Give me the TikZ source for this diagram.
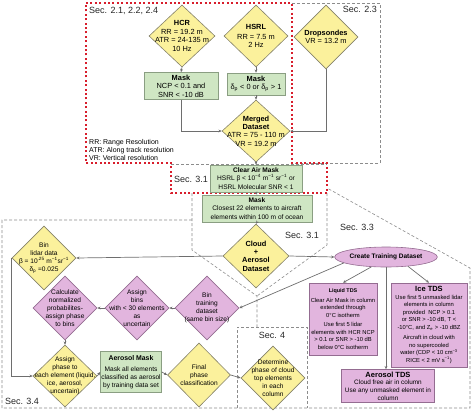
\documentclass[tikz,border=0pt]{standalone}
\usepackage{fontspec}
\setmainfont{Liberation Sans}
\usetikzlibrary{shapes.geometric,arrows.meta}
\definecolor{ylwF}{HTML}{FBF19C}
\definecolor{ylwD}{HTML}{85826A}
\definecolor{grnF}{HTML}{CFE6C3}
\definecolor{grnD}{HTML}{8A9E82}
\definecolor{pnkF}{HTML}{E2B5DE}
\definecolor{pnkD}{HTML}{946C91}
\definecolor{lnC}{HTML}{6E6E6E}
\definecolor{redC}{HTML}{D81E2C}
\definecolor{dshC}{HTML}{8C8C8C}
\newcommand{\fntD}{\fontsize{7.4}{8.4}\selectfont}
\newcommand{\fntP}{\fontsize{6.6}{7.9}\selectfont}
\newcommand{\fntS}{\fontsize{5.8}{7.5}\selectfont}
\newcommand{\fntM}{\fontsize{6.6}{8.2}\selectfont}
\newcommand{\fntL}{\fontsize{7}{8}\selectfont}
\newcommand{\fntSec}{\fontsize{9}{10}\selectfont}
\begin{document}
\begin{tikzpicture}[x=1pt,y=-1pt,
 dia/.style={diamond,aspect=1,draw=ylwD,fill=ylwF,line width=0.6pt,inner sep=0pt},
 pdia/.style={dia,draw=pnkD,fill=pnkF},
 gbox/.style={rectangle,draw=grnD,fill=grnF,line width=0.6pt,inner sep=0pt,align=center},
 pbox/.style={rectangle,draw=pnkD,fill=pnkF,line width=0.6pt,inner sep=0pt,align=center},
 txt/.style={align=center,inner sep=0pt},
 conn/.style={draw=lnC,line width=0.7pt,-{Stealth[length=3.2pt,width=2.8pt]}},
 reddot/.style={draw=redC,line width=2.1pt,dash pattern=on 2pt off 2.4pt},
 gdash/.style={draw=dshC,line width=0.6pt,dash pattern=on 3pt off 2pt},
 seclab/.style={inner sep=0pt,font=\fntSec,text=black!85}
]
\useasboundingbox (0,0) rectangle (474,413);

% section outlines
\draw[gdash] (292,3) -- (380,3) -- (380,163) -- (292,163);
\draw[gdash] (171,164) -- (327,164);
\draw[gdash] (192,193) -- (192,250) -- (257,296) -- (257,327);
\draw[gdash] (327,193) -- (327,245) -- (257,296);
\draw[gdash] (192,220) -- (2,220) -- (2,408) -- (470,408) -- (470,268) -- (327,188);
\draw[gdash] (237,408) -- (237,327) -- (307,327) -- (307,408);
\draw[reddot] (86,3) -- (292,3) -- (292,163) -- (327,163) -- (327,193) -- (171,193) -- (171,163) -- (86,163) -- cycle;

% section labels
\node[seclab,anchor=west] (s224) at (89,11) {Sec. 2.1, 2.2, 2.4};
\node[seclab,anchor=east] (s23) at (377,9) {Sec. 2.3};
\node[seclab] (s31a) at (191,179) {Sec. 3.1};
\node[seclab] (s31b) at (302,235) {Sec. 3.1};
\node[seclab] (s33) at (357,227) {Sec. 3.3};
\node[seclab] (s4) at (272,335) {Sec. 4};
\node[seclab] (s34) at (22,401) {Sec. 3.4};
\node[txt,anchor=west,align=left,font=\fntL] (leg) at (89,150) {RR: Range Resolution\\ATR: Along track resolution\\VR: Vertical resolution};

% top: instruments
\node[dia,minimum width=66pt,minimum height=62pt] (hcr) at (182,36) {};
\node[txt,font=\fntD] (hcrT) at (hcr) {\textbf{HCR}\\RR = 19.2 m\\ATR = 24-135 m\\10 Hz};
\node[dia,minimum width=64pt,minimum height=62pt] (hsrl) at (256,36) {};
\node[txt,font=\fntD] (hsrlT) at (hsrl) {\textbf{HSRL}\\[1pt]RR = 7.5 m\\2 Hz};
\node[dia,minimum width=64pt,minimum height=64pt] (drop) at (326,37) {};
\node[txt,font=\fntD] (dropT) at (drop) {\textbf{Dropsondes}\\VR = 13.2 m};
\node[gbox,font=\fntD,minimum width=74pt,minimum height=27pt] (hcrmask) at (181,86) {\textbf{Mask}\\NCP < 0.1 and\\SNR < -10 dB};
\node[gbox,font=\fntD,minimum width=58pt,minimum height=22pt] (hsrlmask) at (256,84) {\textbf{Mask}\\δ\textsubscript{p} < 0 or δ\textsubscript{p} > 1};
\node[dia,minimum width=68pt,minimum height=62pt] (merged) at (256,131) {};
\node[txt,font=\fntD] (mergedT) at (merged) {\textbf{Merged}\\\textbf{Dataset}\\ATR = 75 - 110 m\\VR = 19.2 m};

% Sec 3.1
\node[gbox,font=\fntM,minimum width=92pt,minimum height=27pt] (clearair) at (256,178.5) {\textbf{Clear Air Mask}\\HSRL β < 10\textsuperscript{−4} m\textsuperscript{−1} sr\textsuperscript{−1} or\\HSRL Molecular SNR < 1};
\node[gbox,font=\fntM,minimum width=110pt,minimum height=27pt] (mask22) at (257,208.5) {\textbf{Mask}\\Closest 22 elements to aircraft\\elements within 100 m of ocean};
\node[dia,minimum width=66pt,minimum height=64pt] (cloud) at (256,256) {};
\node[txt,font=\fntD] (cloudT) at (cloud) {\textbf{Cloud}\\\textbf{+}\\\textbf{Aerosol}\\\textbf{Dataset}};

% Sec 3.4
\node[dia,minimum width=64pt,minimum height=64pt] (binlidar) at (44,258) {};
\node[txt,font=\fntP] (binlidarT) at (binlidar) {Bin\\lidar data\\β = 10\textsuperscript{.25} m\textsuperscript{−1}sr\textsuperscript{−1}\\δ\textsubscript{p} =0.025};
\node[pdia,minimum width=64pt,minimum height=64pt] (calc) at (65,308) {};
\node[txt,font=\fntP] (calcT) at (calc) {Calculate\\normalized\\probabilites-\\assign phase\\to bins};
\node[pdia,minimum width=64pt,minimum height=64pt] (assignbins) at (137,308) {};
\node[txt,font=\fntP] (assignbinsT) at (assignbins) {Assign\\bins\\with < 30 elements\\as\\uncertain};
\node[pdia,minimum width=64pt,minimum height=64pt] (bintrain) at (207,308) {};
\node[txt,font=\fntP] (bintrainT) at (bintrain) {Bin\\training\\dataset\\(same bin size)};
\node[dia,minimum width=64pt,minimum height=62pt] (assignph) at (65,376) {};
\node[txt,font=\fntP] (assignphT) at (assignph) {Assign\\phase to\\each element (liquid,\\ice, aerosol,\\uncertain)};
\node[gbox,font=\fntP,minimum width=61pt,minimum height=41pt] (aermask) at (131,372) {{\fontsize{6.9}{8}\selectfont\textbf{Aerosol Mask}}\\[3pt]Mask all elements\\classified as aerosol\\by training data set};
\node[dia,minimum width=63pt,minimum height=64pt] (final) at (199,375) {};
\node[txt,font=\fntP] (finalT) at (final) {Final\\phase\\classification};
\node[dia,minimum width=64pt,minimum height=64pt] (determine) at (273,378) {};
\node[txt,font=\fntP] (determineT) at (determine) {Determine\\phase of cloud\\top elements\\in each\\column};

% Sec 3.3
\node[ellipse,draw=pnkD,fill=pnkF,line width=0.6pt,inner sep=0pt,minimum width=87pt,minimum height=20pt,font=\fontsize{6.5}{7}\selectfont] (ctd) at (386,257) {\textbf{Create Training Dataset}};
\node[pbox,font=\fntS,minimum width=68pt,minimum height=72pt] (liquid) at (343,319) {{\fontsize{5.4}{7}\selectfont\textbf{Liquid TDS}}\\[2pt]Clear Air Mask in column\\extended through\\0°C isotherm\\[2pt]Use first 5 lidar\\elements with HCR NCP\\> 0.1 or SNR > -10 dB\\below 0°C isotherm};
\node[pbox,font=\fntS,minimum width=76pt,minimum height=84pt] (ice) at (429,325) {{\fontsize{7.5}{8}\selectfont\textbf{Ice TDS}}\\Use first 5 unmasked lidar\\elements in column\\provided\ \ NCP > 0.1\\or SNR > -10 dB, T <\\-10°C, and Z\textsubscript{e} > -10 dBZ\\[3pt]Aircraft in cloud with\\no supercooled\\water (CDP < 10 cm\textsuperscript{−3}\\RICE < 2 mV s\textsuperscript{−1})};
\node[pbox,font=\fontsize{6.4}{7.6}\selectfont,minimum width=93pt,minimum height=33pt] (aerosol) at (388,386) {{\fontsize{7.5}{8}\selectfont\textbf{Aerosol TDS}}\\Cloud free air in column\\Use any unmasked element in\\column};

% connectors
\draw[conn] (hcr.south) -- (hcrmask.north);
\draw[conn] (hsrl.south) -- (hsrlmask.north);
\draw[conn] (hcrmask.south) |- (merged.west);
\draw[conn] (hsrlmask.south) -- (merged.north);
\draw[conn] (drop.south) |- (merged.east);
\draw[conn] (merged.south) -- (clearair.north);
\draw[conn] (clearair.south) -- (mask22.north);
\draw[conn] (mask22.south) -- (cloud.north);
\draw[conn] (cloud.west) -- (binlidar.east);
\draw[conn] (cloud.east) -- (ctd.west);
\draw[conn] (ctd.188) -- (bintrain.east);
\draw[conn] (bintrain.west) -- (assignbins.east);
\draw[conn] (assignbins.west) -- (calc.east);
\draw[conn] (calc.south) -- (assignph.north);
\draw[conn] (binlidar.west) |- (assignph.west);
\draw[conn] (assignph.east) -- (aermask.west);
\draw[conn] (aermask.east) -- (final.west);
\draw[conn] (final.east) -- (determine.west);
\draw[conn] (ctd.214) -- (liquid.north);
\draw[conn] (ctd.337) -- (ice.north);
\draw[conn] (ctd.south) -- (ctd.south |- aerosol.north);
\end{tikzpicture}
\end{document}
